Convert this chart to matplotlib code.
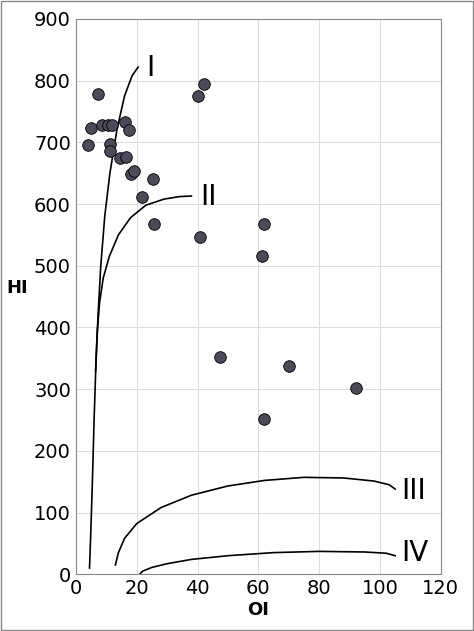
import matplotlib.pyplot as plt

oi = [7.3, 4.9, 4.0, 8.6, 10.6, 11.9, 11.2, 11.2, 14.5, 16.5, 16.2, 17.5, 18.0, 19.2,
      21.8, 25.5, 25.8, 40.0, 42.0, 40.7, 61.8, 61.2, 47.3, 70.0, 92.0, 61.8]
hi = [778, 723, 695, 728, 728, 728, 697, 686, 674, 676, 733, 720, 648, 653,
      611, 640, 568, 775, 795, 546, 567, 516, 352, 337, 301, 252]

# boundary curves
c1_x = [4.5, 5.0, 5.5, 6.0, 6.6, 7.3, 8.2, 9.5, 11.2, 13.5, 16.0, 18.5, 20.5]
c1_y = [10, 80, 160, 250, 340, 420, 500, 580, 650, 720, 775, 808, 822]
c2_x = [6.5, 7.0, 7.8, 9.0, 11.0, 14.0, 18.0, 23.0, 29.0, 34.0, 38.0]
c2_y = [330, 390, 440, 480, 515, 550, 578, 598, 608, 612, 613]
c3_x = [13, 14, 16, 20, 28, 38, 50, 62, 75, 88, 98, 103, 105]
c3_y = [15, 35, 58, 82, 108, 128, 143, 152, 157, 156, 151, 145, 138]
c4_x = [21, 22, 25, 30, 38, 50, 65, 80, 95, 102, 105]
c4_y = [0, 5, 11, 17, 24, 30, 35, 37, 36, 34, 30]
labels = ["I", "II", "III", "IV"]
label_pos = [(23, 820), (41, 612), (107, 135), (107, 35)]

fig, ax = plt.subplots(figsize=(4.74, 6.31), dpi=100)
fig.subplots_adjust(left=0.16, right=0.93, bottom=0.09, top=0.97)
ax.grid(True, color="#dddddd", lw=0.8)
ax.set_axisbelow(True)
for cx, cy in [(c1_x, c1_y), (c2_x, c2_y), (c3_x, c3_y), (c4_x, c4_y)]:
    ax.plot(cx, cy, color="black", lw=1.2)
for lab, (lx, ly) in zip(labels, label_pos):
    ax.text(lx, ly, lab, fontsize=20, va="center", ha="left")
ax.scatter(oi, hi, s=70, color="#4a4a5a", edgecolor="black", lw=0.6, zorder=3)
ax.set_xlim(0, 120)
ax.set_ylim(0, 900)
ax.set_xticks(range(0, 121, 20))
ax.set_yticks(range(0, 901, 100))
ax.tick_params(labelsize=14, length=0)
ax.set_xlabel("OI", fontsize=13, fontweight="bold", labelpad=2)
ax.set_ylabel("HI", fontsize=13, fontweight="bold", rotation=0, labelpad=12)
for s in ax.spines.values():
    s.set_color("#888888")
fig.patches.append(plt.Rectangle((0.002, 0.002), 0.996, 0.996, transform=fig.transFigure,
                                 fill=False, edgecolor="#888888", lw=1))
fig.savefig("out.png", dpi=100)
